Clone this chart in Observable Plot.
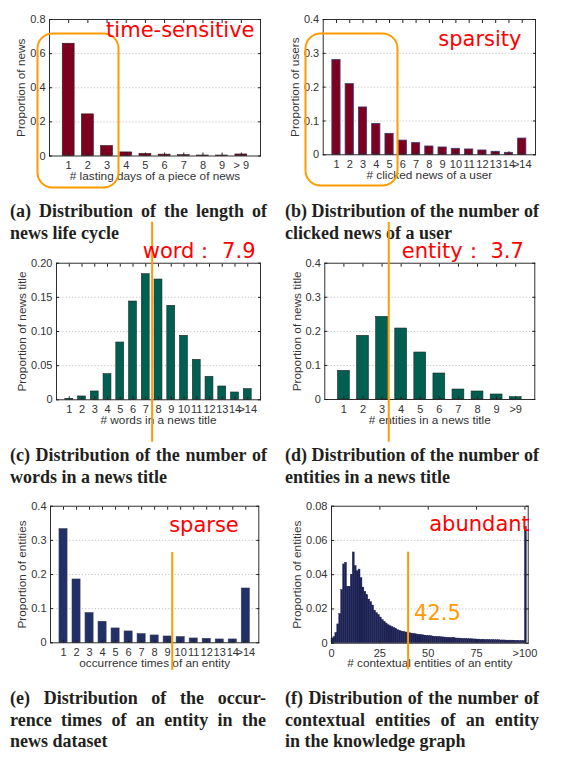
<!DOCTYPE html>
<html>
<head>
<meta charset="utf-8">
<script src="https://cdn.jsdelivr.net/npm/d3@7"></script>
<script src="https://cdn.jsdelivr.net/npm/@observablehq/plot@0.6"></script>
<style>
  html, body { margin: 0; padding: 0; background: #fff; }
  #page { position: relative; width: 562px; height: 772px; overflow: hidden; background: #fff; }
  .panel { position: absolute; z-index: 2; }
  .panel svg { display: block; overflow: visible; }
  .cap { position: absolute; z-index: 1; font-family: "Liberation Serif", "Times New Roman", serif; font-weight: bold; font-size: 18px; line-height: 21.5px; color: #231f20; }
  .cap .line { display: block; white-space: nowrap; }
  .cap .just { display: flex; justify-content: space-between; }
</style>
</head>
<body>
<div id="page"></div>
<script>
// ---------------- data ----------------
// (a) lasting days of a piece of news
const lifeDays = ["1", "2", "3", "4", "5", "6", "7", "8", "9", "> 9"];
const lifeShare = [0.658, 0.244, 0.058, 0.021, 0.012, 0.008, 0.005, 0.003, 0.003, 0.009];
const lifeTicks = [0, 0.2, 0.4, 0.6, 0.8];

// (b) clicked news of a user
const clickCounts = ["1", "2", "3", "4", "5", "6", "7", "8", "9", "10", "11", "12", "13", "14", ">14"];
const clickShare = [0.280, 0.209, 0.140, 0.091, 0.062, 0.042, 0.0345, 0.0246, 0.0217, 0.0177, 0.0158, 0.0128, 0.0089, 0.0059, 0.048];
const clickTicks = [0, 0.1, 0.2, 0.3, 0.4];

// (c) words in a news title
const wordCounts = ["1", "2", "3", "4", "5", "6", "7", "8", "9", "10", "11", "12", "13", "14", ">14"];
const wordShare = [0.0015, 0.0049, 0.0122, 0.0376, 0.0839, 0.1439, 0.1839, 0.1761, 0.1376, 0.0937, 0.0585, 0.0337, 0.0195, 0.0107, 0.0156];
const wordTicks = [0, 0.05, 0.10, 0.15, 0.20];
const wordLine = 7.5;

// (d) entities in a news title
const entityCounts = ["1", "2", "3", "4", "5", "6", "7", "8", "9", ">9"];
const entityShare = [0.0841, 0.1868, 0.2425, 0.2083, 0.1379, 0.0763, 0.0293, 0.0235, 0.0147, 0.0068];
const entityTicks = [0, 0.1, 0.2, 0.3, 0.4];
const entityLine = 3.35;

// (e) occurrence times of an entity
const occurCounts = ["1", "2", "3", "4", "5", "6", "7", "8", "9", "10", "11", "12", "13", "14", ">14"];
const occurShare = [0.3327, 0.1854, 0.0868, 0.0615, 0.0420, 0.0332, 0.0254, 0.0215, 0.0185, 0.0166, 0.0127, 0.0117, 0.0098, 0.0098, 0.159];
const occurTicks = [0, 0.1, 0.2, 0.3, 0.4];
const occurLine = 9.35;

// (f) contextual entities of an entity (bins 1..100, then >100)
const ctxShare = [
  0.0027, 0.0035, 0.006, 0.011, 0.017, 0.031, 0.046, 0.047, 0.033, 0.033,
  0.040, 0.053, 0.045, 0.042, 0.043, 0.038, 0.0325, 0.030, 0.028, 0.0255,
  0.024, 0.022, 0.019, 0.0175, 0.0165, 0.015, 0.0135, 0.0125, 0.0115, 0.0105,
  0.0099, 0.0094, 0.0089, 0.0082, 0.0076, 0.0072, 0.0068, 0.0066, 0.0063, 0.006,
  0.0058, 0.0056, 0.0054, 0.0052, 0.005, 0.0049, 0.0047, 0.0046, 0.0044, 0.0043,
  0.0042, 0.0041, 0.0039, 0.0038, 0.0037, 0.0036, 0.0035, 0.0034, 0.0033, 0.0032,
  0.0031, 0.003, 0.003, 0.0029, 0.0028, 0.0027, 0.0027, 0.0026, 0.0025, 0.0025,
  0.0024, 0.0023, 0.0023, 0.0022, 0.0022, 0.0021, 0.0021, 0.002, 0.002, 0.0019,
  0.0019, 0.0019, 0.0018, 0.0018, 0.0017, 0.0017, 0.0017, 0.0016, 0.0016, 0.0016,
  0.0015, 0.0015, 0.0015, 0.0015, 0.0014, 0.0014, 0.0014, 0.0013, 0.0013, 0.0013,
  0.068
];
const ctxTickValues = [0, 25, 50, 75, 100];
const ctxTickLabels = ["0", "25", "50", "75", ">100"];
const ctxTicks = [0, 0.02, 0.04, 0.06, 0.08];
const ctxLine = 39.6;

// ---------------- styling ----------------
const ORANGE = "#ff9a00";
const RED = "#ff0000";
const AXIS_FONT = "'Liberation Sans', Arial, sans-serif";
const ANNOT_FONT = "'DejaVu Sans', 'Liberation Sans', sans-serif";
const blank = () => "";
const fmt1 = d => d === 0 ? "0" : d.toFixed(1);
const fmt2 = d => d === 0 ? "0" : d.toFixed(2);

function annot(text, opts) {
  return Plot.text([text], {text: d => d, textAnchor: "end", lineAnchor: "bottom",
    fill: RED, fontSize: 21, fontFamily: ANNOT_FONT, ...opts});
}
function meanRule(v, insetTop, insetBottom) {
  return Plot.ruleX([v], {x: d => d, stroke: ORANGE, strokeWidth: 2, insetTop, insetBottom});
}
function roundBox(insets) {
  return Plot.frame({stroke: ORANGE, strokeWidth: 2, fill: "none", rx: 15, ry: 15, ...insets});
}

function buildPanel(p) {
  const n = p.values.length;
  const hw = 0.31;
  const rects = p.values.map((v, i) => p.hist
    ? {x1: i, x2: i + 1, v}
    : {x1: i + 1 - hw, x2: i + 1 + hw, v});
  const xTicks = p.hist ? p.xTickValues : p.labels.map((_, i) => i + 1);
  const xFmt = p.hist ? (t => p.xTickLabels[p.xTickValues.indexOf(t)]) : (t => p.labels[t - 1]);
  const xDomain = p.hist ? [0, p.xMax] : [0, n + 1];
  const yMax = p.yTicks[p.yTicks.length - 1];
  return Plot.plot({
    width: 281, height: 195, ...p.margin,
    style: {overflow: "visible", background: "transparent", fontFamily: AXIS_FONT, fontSize: "11px", color: "#333"},
    x: {domain: xDomain},
    y: {domain: [0, yMax]},
    marks: [
      Plot.gridY(p.yTicks.slice(1, -1), {stroke: "#b5b5b5", strokeOpacity: 1, strokeWidth: 0.8, strokeDasharray: "1.2,2"}),
      Plot.rect(rects, {x1: "x1", x2: "x2", y1: () => 0, y2: "v", fill: p.fill, stroke: p.stroke, strokeWidth: p.strokeWidth}),
      Plot.axisX(xTicks, {anchor: "bottom", tickSize: 0, tickPadding: 5.5, tickFormat: xFmt, label: null}),
      Plot.axisX(xTicks, {anchor: "bottom", tickSize: -3, tickFormat: blank, label: null, stroke: "#222"}),
      Plot.axisX(xTicks, {anchor: "top", tickSize: -3, tickFormat: blank, label: null, stroke: "#222"}),
      Plot.axisY(p.yTicks, {anchor: "left", tickSize: 0, tickPadding: 4, tickFormat: p.yFmt, label: null}),
      Plot.axisY(p.yTicks, {anchor: "left", tickSize: -3, tickFormat: blank, label: null, stroke: "#222"}),
      Plot.axisY(p.yTicks, {anchor: "right", tickSize: -3, tickFormat: blank, label: null, stroke: "#222"}),
      Plot.frame({stroke: "#1a1a1a", strokeWidth: 0.9}),
      Plot.text([p.yLabel], {text: d => d, frameAnchor: "left", dx: p.yLabelDx, rotate: -90,
        textAnchor: "middle", lineAnchor: "middle", fontSize: 11.8, fill: "#333"}),
      Plot.text([p.xLabel], {text: d => d, frameAnchor: "bottom", dy: 20.5,
        textAnchor: "middle", lineAnchor: "middle", fontSize: 11.8, fill: "#333"}),
      ...(p.extras || [])
    ]
  });
}

const panels = [
  {left: 0, top: 0, labels: lifeDays, values: lifeShare, yTicks: lifeTicks, yFmt: fmt1,
   fill: "#7e0020", stroke: "#2a1a1a", strokeWidth: 0.6,
   yLabel: "Proportion of news", xLabel: "# lasting days of a piece of news", yLabelDx: -28.3,
   margin: {marginLeft: 49, marginRight: 21, marginTop: 19, marginBottom: 39.5},
   extras: [
     roundBox({insetLeft: -12, insetRight: 142, insetTop: 14, insetBottom: -31.5}),
     annot("time-sensitive", {frameAnchor: "top-right", dx: -6, dy: 17.7})
   ]},
  {left: 281, top: 0, labels: clickCounts, values: clickShare, yTicks: clickTicks, yFmt: fmt1,
   fill: "#7e0020", stroke: "#3c3c78", strokeWidth: 0.8,
   yLabel: "Proportion of users", xLabel: "# clicked news of a user", yLabelDx: -28.1,
   margin: {marginLeft: 41.7, marginRight: 27, marginTop: 19, marginBottom: 40.7},
   extras: [
     roundBox({insetLeft: -17.7, insetRight: 138, insetTop: 14, insetBottom: -30.7}),
     annot("sparsity", {frameAnchor: "top-right", dx: -14, dy: 26.7})
   ]},
  {left: 0, top: 245, labels: wordCounts, values: wordShare, yTicks: wordTicks, yFmt: fmt2,
   fill: "#005f50", stroke: "#1f2a2a", strokeWidth: 0.6,
   yLabel: "Proportion of news title", xLabel: "# words in a news title", yLabelDx: -34.3,
   margin: {marginLeft: 56, marginRight: 21, marginTop: 17.7, marginBottom: 40.7},
   extras: [
     meanRule(wordLine, -41, -42.4),
     annot("word： 7.9", {frameAnchor: "top-right", dx: -5, dy: -5})
   ]},
  {left: 281, top: 245, labels: entityCounts, values: entityShare, yTicks: entityTicks, yFmt: fmt1,
   fill: "#005f50", stroke: "#1f2a2a", strokeWidth: 0.6,
   yLabel: "Proportion of news title", xLabel: "# entities in a news title", yLabelDx: -27.1,
   margin: {marginLeft: 43.3, marginRight: 27.7, marginTop: 17.7, marginBottom: 41},
   extras: [
     meanRule(entityLine, -40.7, -42.7),
     annot("entity： 3.7", {frameAnchor: "top-right", dx: -11, dy: -5.4})
   ]},
  {left: 0, top: 490, labels: occurCounts, values: occurShare, yTicks: occurTicks, yFmt: fmt1,
   fill: "#22306a", stroke: "#3a3a4a", strokeWidth: 0.6,
   yLabel: "Proportion of entities", xLabel: "occurrence times of an entity", yLabelDx: -28.7,
   margin: {marginLeft: 50, marginRight: 22.7, marginTop: 15.7, marginBottom: 42.7},
   extras: [
     meanRule(occurLine, 46.3, -27.7),
     annot("sparse", {frameAnchor: "top-right", dx: -20, dy: 26})
   ]},
  {left: 281, top: 490, hist: true, values: ctxShare, xTickValues: ctxTickValues, xTickLabels: ctxTickLabels, xMax: 101.7,
   yTicks: ctxTicks, yFmt: fmt2,
   fill: "#1c2253", stroke: "#1c2253", strokeWidth: 0.4,
   yLabel: "Proportion of entities", xLabel: "# contextual entities of an entity", yLabelDx: -34.2,
   margin: {marginLeft: 50, marginRight: 34.3, marginTop: 15.7, marginBottom: 42.3},
   extras: [
     meanRule(ctxLine, 46, -26.6),
     annot("abundant", {frameAnchor: "top-right", dx: 1.6, dy: 25}),
     Plot.text([ctxLine], {x: d => d, text: () => "42.5", frameAnchor: "bottom", dx: 6, dy: -23.4,
       textAnchor: "start", lineAnchor: "bottom", fill: ORANGE, fontSize: 21, fontFamily: ANNOT_FONT})
   ]}
];

const captions = [
  {left: 10, top: 201.4, width: 257, lines: ["(a) Distribution of the length of", "news life cycle"]},
  {left: 285, top: 201.4, width: 254, lines: ["(b) Distribution of the number of", "clicked news of a user"]},
  {left: 10, top: 445.4, width: 257, lines: ["(c) Distribution of the number of", "words in a news title"]},
  {left: 285, top: 445.4, width: 254, lines: ["(d) Distribution of the number of", "entities in a news title"]},
  {left: 10, top: 688.1, width: 256, lines: ["(e) Distribution of the occur-", "rence times of an entity in the", "news dataset"]},
  {left: 285, top: 688.1, width: 254, lines: ["(f) Distribution of the number of", "contextual entities of an entity", "in the knowledge graph"]}
];

const page = document.getElementById("page");
for (const c of captions) {
  const div = document.createElement("div");
  div.className = "cap";
  div.style.left = c.left + "px";
  div.style.top = c.top + "px";
  div.style.width = c.width + "px";
  c.lines.forEach((line, i) => {
    const ln = document.createElement("div");
    if (i < c.lines.length - 1) {
      ln.className = "line just";
      for (const w of line.split(" ")) {
        const s = document.createElement("span");
        s.textContent = w;
        ln.appendChild(s);
      }
    } else {
      ln.className = "line";
      ln.textContent = line;
    }
    div.appendChild(ln);
  });
  page.appendChild(div);
}
for (const p of panels) {
  const holder = document.createElement("div");
  holder.className = "panel";
  holder.style.left = p.left + "px";
  holder.style.top = p.top + "px";
  holder.appendChild(buildPanel(p));
  page.appendChild(holder);
}
</script>
</body>
</html>
